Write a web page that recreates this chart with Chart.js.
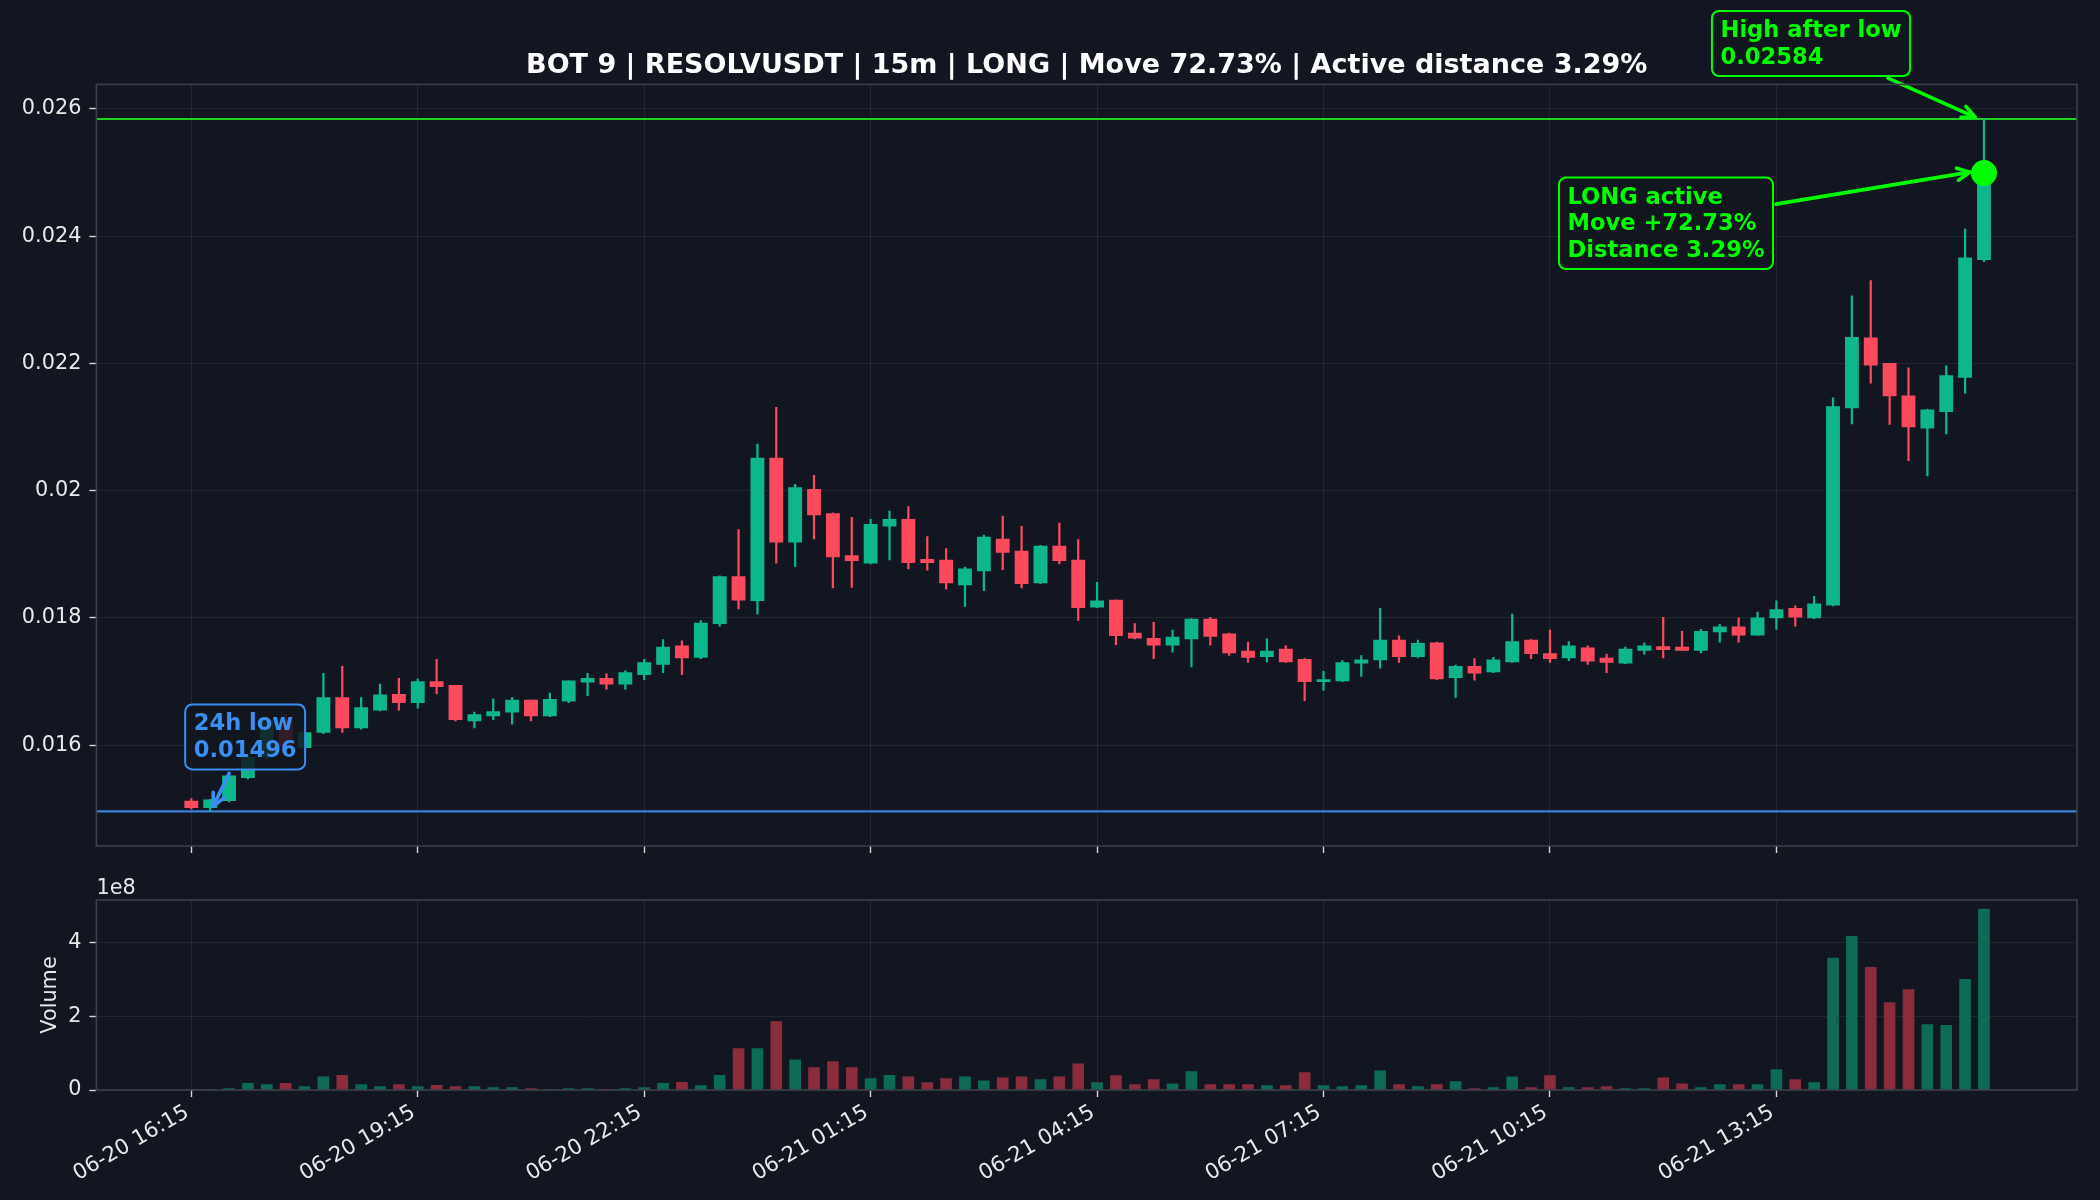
<!DOCTYPE html>
<html>
<head>
<meta charset="utf-8">
<script src="https://cdn.jsdelivr.net/npm/chart.js@4.4.1/dist/chart.umd.min.js"></script>
<style>
html,body{margin:0;padding:0;background:#121620;}
#wrap{position:relative;width:2100px;height:1200px;background:#121620;}
canvas{position:absolute;left:0;top:0;}
</style>
</head>
<body>
<div id="wrap">
<canvas id="priceChart" width="2100" height="1200"></canvas>
<canvas id="volChart" width="2100" height="1200"></canvas>
</div>
<script>
// ---------------- DATA ----------------
const chartTitle = "BOT 9 | RESOLVUSDT | 15m | LONG | Move 72.73% | Active distance 3.29%";
const tickIndex = [0, 12, 24, 36, 48, 60, 72, 84];
const tickLabels = ["06-20 16:15", "06-20 19:15", "06-20 22:15", "06-21 01:15", "06-21 04:15", "06-21 07:15", "06-21 10:15", "06-21 13:15"];
const priceTicks = [0.016, 0.018, 0.020, 0.022, 0.024, 0.026];
const priceTickLabels = ["0.016", "0.018", "0.02", "0.022", "0.024", "0.026"];
const volumeTicks = [0, 2e8, 4e8];
const volumeTickLabels = ["0", "2", "4"];

const opens = [
0.01512,0.01502,0.01513,0.01549,0.01581,0.01640,0.01596,0.01620,0.01675,0.01627,
0.01655,0.01680,0.01667,0.01700,0.01694,0.01638,0.01646,0.01652,0.01671,0.01646,
0.01669,0.01699,0.01705,0.01696,0.01711,0.01727,0.01756,0.01738,0.01791,0.01865,
0.01827,0.02051,0.01919,0.02002,0.01964,0.01898,0.01886,0.01944,0.01955,0.01892,
0.01891,0.01852,0.01874,0.01924,0.01905,0.01855,0.01913,0.01891,0.01817,0.01828,
0.01776,0.01768,0.01757,0.01767,0.01798,0.01775,0.01748,0.01739,0.01751,0.01735,
0.01700,0.01701,0.01729,0.01734,0.01765,0.01739,0.01761,0.01706,0.01724,0.01715,
0.01731,0.01765,0.01744,0.01737,0.01753,0.01737,0.01729,0.01749,0.01755,0.01754,
0.01749,0.01778,0.01786,0.01773,0.01800,0.01815,0.01800,0.01820,0.02130,0.02240,
0.02200,0.02149,0.02098,0.02124,0.02178,0.02363];
const highs = [
0.01516,0.01515,0.01553,0.01585,0.01645,0.01648,0.01622,0.01713,0.01724,0.01675,
0.01696,0.01705,0.01704,0.01735,0.01694,0.01652,0.01673,0.01675,0.01671,0.01682,
0.01701,0.01713,0.01712,0.01717,0.01735,0.01766,0.01764,0.01796,0.01866,0.01939,
0.02073,0.02131,0.02010,0.02024,0.01965,0.01958,0.01955,0.01968,0.01975,0.01928,
0.01909,0.01880,0.01930,0.01960,0.01944,0.01914,0.01949,0.01923,0.01856,0.01828,
0.01791,0.01793,0.01781,0.01799,0.01801,0.01776,0.01762,0.01767,0.01756,0.01736,
0.01716,0.01733,0.01741,0.01815,0.01772,0.01765,0.01762,0.01726,0.01736,0.01738,
0.01806,0.01766,0.01781,0.01763,0.01756,0.01743,0.01754,0.01761,0.01801,0.01779,
0.01782,0.01790,0.01800,0.01809,0.01827,0.01819,0.01834,0.02146,0.02306,0.02330,
0.02200,0.02193,0.02128,0.02196,0.02411,0.02584];
const lows = [
0.01500,0.01496,0.01511,0.01547,0.01578,0.01595,0.01594,0.01618,0.01620,0.01625,
0.01654,0.01655,0.01658,0.01681,0.01638,0.01627,0.01640,0.01633,0.01638,0.01645,
0.01667,0.01678,0.01688,0.01688,0.01703,0.01714,0.01711,0.01736,0.01787,0.01814,
0.01806,0.01886,0.01881,0.01924,0.01847,0.01848,0.01885,0.01891,0.01877,0.01875,
0.01845,0.01818,0.01843,0.01876,0.01847,0.01854,0.01885,0.01796,0.01816,0.01758,
0.01767,0.01736,0.01746,0.01723,0.01757,0.01741,0.01730,0.01731,0.01730,0.01670,
0.01686,0.01700,0.01708,0.01721,0.01730,0.01737,0.01703,0.01675,0.01702,0.01714,
0.01730,0.01736,0.01730,0.01733,0.01727,0.01714,0.01728,0.01743,0.01737,0.01749,
0.01745,0.01762,0.01762,0.01773,0.01782,0.01787,0.01799,0.01819,0.02105,0.02169,
0.02104,0.02047,0.02023,0.02089,0.02153,0.02360];
const closes = [
0.01502,0.01514,0.01552,0.01581,0.01640,0.01598,0.01620,0.01675,0.01627,0.01659,
0.01679,0.01667,0.01700,0.01692,0.01640,0.01648,0.01653,0.01671,0.01646,0.01672,
0.01701,0.01705,0.01696,0.01714,0.01730,0.01754,0.01737,0.01792,0.01865,0.01828,
0.02051,0.01919,0.02005,0.01962,0.01896,0.01890,0.01947,0.01955,0.01887,0.01887,
0.01855,0.01877,0.01927,0.01903,0.01854,0.01913,0.01890,0.01816,0.01827,0.01772,
0.01768,0.01757,0.01770,0.01798,0.01771,0.01745,0.01738,0.01748,0.01731,0.01700,
0.01703,0.01730,0.01734,0.01765,0.01739,0.01760,0.01704,0.01724,0.01713,0.01734,
0.01763,0.01744,0.01736,0.01756,0.01732,0.01730,0.01751,0.01756,0.01750,0.01749,
0.01779,0.01786,0.01773,0.01800,0.01813,0.01801,0.01822,0.02132,0.02241,0.02197,
0.02149,0.02100,0.02127,0.02181,0.02366,0.02499];
const volumes = [
1.5e6,2e6,3.6e6,18e6,14.5e6,18e6,9e6,36e6,40e6,14.5e6,
9e6,14.5e6,9e6,12.7e6,9e6,9e6,6.3e6,6.3e6,3.6e6,1.5e6,
3.6e6,3.6e6,1.5e6,3.6e6,6.3e6,18e6,21e6,11.8e6,40e6,112e6,
112e6,185e6,82e6,61e6,77e6,61e6,31e6,40e6,36e6,20e6,
31e6,36e6,25e6,33e6,36e6,28e6,36e6,71e6,20e6,39e6,
14.5e6,28e6,17e6,50e6,14.5e6,14.5e6,14.5e6,12e6,12e6,47e6,
12e6,9e6,12e6,52e6,14.5e6,9e6,14.5e6,23e6,3.6e6,6.3e6,
36e6,6.3e6,39e6,6.3e6,6.3e6,9e6,3.6e6,3.6e6,33e6,17e6,
6.3e6,14.5e6,14.5e6,14.5e6,55e6,28e6,20e6,357e6,416e6,332e6,
237e6,272e6,177e6,175e6,300e6,490e6];

const lowValue = 0.01496, lowIndex = 1;
const highValue = 0.02584, highIndex = 95;
const activeIndex = 95;
const lowLabel = ["24h low", "0.01496"];
const highLabel = ["High after low", "0.02584"];
const activeLabel = ["LONG active", "Move +72.73%", "Distance 3.29%"];

// ---------------- STYLE ----------------
const BG = '#121620';
const UP = '#0eb68b', DOWN = '#fb4a5e';
const UP_VOL = '#0d6b55', DOWN_VOL = '#8a2c3c';
const GRID = 'rgba(255,255,255,0.07)';
const SPINE = '#3c404b';
const TXT = '#e8e8e8';
const TICKC = '#d8d8d8';
const LIME = '#00ff00';
const BLUE = '#3b8ef3';
const FONT = "'DejaVu Sans', sans-serif";
const X_MIN = -5.03, X_MAX = 99.93;
const PLOT_LEFT = 96.4, PLOT_RIGHT_PAD = 23;

Chart.defaults.font.family = FONT;
Chart.defaults.color = TXT;

const isUp = i => closes[i] >= opens[i];
const candleColors = opens.map((_, i) => isUp(i) ? UP : DOWN);
const volColors = opens.map((_, i) => isUp(i) ? UP_VOL : DOWN_VOL);

const framePlugin = {
  id: 'frame',
  afterDatasetsDraw(chart) {
    const {ctx, chartArea: a} = chart;
    ctx.save();
    ctx.strokeStyle = SPINE; ctx.lineWidth = 1.6;
    ctx.strokeRect(a.left, a.top, a.right - a.left, a.bottom - a.top);
    ctx.restore();
  }
};

function arrow(ctx, x1, y1, x2, y2, color) {
  ctx.save();
  ctx.strokeStyle = color; ctx.lineWidth = 3.6; ctx.lineCap = 'round'; ctx.lineJoin = 'round';
  ctx.beginPath(); ctx.moveTo(x1, y1); ctx.lineTo(x2, y2); ctx.stroke();
  const ang = Math.atan2(y2 - y1, x2 - x1), hl = 14, ha = 0.45;
  ctx.beginPath();
  ctx.moveTo(x2 - hl * Math.cos(ang - ha), y2 - hl * Math.sin(ang - ha));
  ctx.lineTo(x2, y2);
  ctx.lineTo(x2 - hl * Math.cos(ang + ha), y2 - hl * Math.sin(ang + ha));
  ctx.stroke();
  ctx.restore();
}

function labelBox(ctx, ax, ay, dx, dy, lines, color, arrowFrom, arrowTo) {
  ctx.save();
  ctx.font = "bold 22.6px " + FONT;
  const w = Math.max(...lines.map(l => ctx.measureText(l).width));
  const bx = ax + dx, by = ay + dy;
  const bw = w + 17, bh = lines.length * 26.5 + 12;
  ctx.beginPath();
  ctx.roundRect(bx, by, bw, bh, 7);
  ctx.fillStyle = 'rgba(18,22,32,0.86)';
  ctx.fill();
  ctx.strokeStyle = color; ctx.lineWidth = 2;
  ctx.stroke();
  ctx.fillStyle = color;
  ctx.textBaseline = 'alphabetic'; ctx.textAlign = 'left';
  lines.forEach((l, i) => ctx.fillText(l, bx + 8.5, by + 26 + i * 26.5));
  ctx.restore();
  arrow(ctx, ax + arrowFrom[0], ay + arrowFrom[1], ax + arrowTo[0], ay + arrowTo[1], color);
}

const annotPlugin = {
  id: 'annot',
  beforeDatasetsDraw(chart) {
    const {ctx, chartArea: a, scales: {y}} = chart;
    ctx.save();
    ctx.lineWidth = 2.2;
    ctx.strokeStyle = '#3a7fd5';
    let py = y.getPixelForValue(lowValue);
    ctx.beginPath(); ctx.moveTo(a.left, py); ctx.lineTo(a.right, py); ctx.stroke();
    ctx.strokeStyle = '#1ed21e';
    py = y.getPixelForValue(highValue);
    ctx.beginPath(); ctx.moveTo(a.left, py); ctx.lineTo(a.right, py); ctx.stroke();
    ctx.restore();
  },
  afterDatasetsDraw(chart) {
    const {ctx, scales: {x, y}} = chart;
    const lx = x.getPixelForValue(lowIndex), ly = y.getPixelForValue(lowValue);
    labelBox(ctx, lx, ly, -25, -107, lowLabel, BLUE, [19, -38], [3, -5]);
    const hx = x.getPixelForValue(highIndex), hy = y.getPixelForValue(highValue);
    labelBox(ctx, hx, hy, -272, -108, highLabel, LIME, [-96, -41], [-9, -2]);
    const cx = x.getPixelForValue(activeIndex), cy = y.getPixelForValue(closes[activeIndex]);
    labelBox(ctx, cx, cy, -425, 4.5, activeLabel, LIME, [-208, 31], [-14, -1]);
  },
  afterDraw(chart) {
    const {ctx, chartArea: a} = chart;
    ctx.save();
    ctx.font = "bold 27px " + FONT;
    ctx.fillStyle = '#ffffff';
    ctx.textAlign = 'center'; ctx.textBaseline = 'alphabetic';
    ctx.fillText(chartTitle, (a.left + a.right) / 2, 72.5);
    ctx.restore();
  }
};

const volPlugin = {
  id: 'volTxt',
  afterDraw(chart) {
    const {ctx, chartArea: a} = chart;
    ctx.save();
    ctx.font = "20.8px " + FONT;
    ctx.fillStyle = TXT;
    ctx.textAlign = 'left'; ctx.textBaseline = 'alphabetic';
    ctx.fillText('1e8', a.left, 894);
    ctx.restore();
  }
};

const xGrid = {color: GRID, lineWidth: 1, drawTicks: true, tickLength: 7, tickColor: TICKC, tickWidth: 1.4, offset: false};
const yGrid = {color: GRID, lineWidth: 1, drawTicks: true, tickLength: 7, tickColor: TICKC, tickWidth: 1.4};

// ---------------- PRICE CHART ----------------
new Chart(document.getElementById('priceChart'), {
  type: 'bar',
  data: {
    datasets: [
      {
        label: 'dot', type: 'scatter',
        data: [{x: activeIndex, y: closes[activeIndex]}],
        pointRadius: 13, pointBackgroundColor: LIME, pointBorderWidth: 0, order: 0
      },
      {
        label: 'body',
        data: opens.map((o, i) => ({x: i, y: [o, closes[i]]})),
        backgroundColor: candleColors, borderWidth: 0,
        barThickness: 13.2, grouped: false, minBarLength: 2, order: 1
      },
      {
        label: 'wick',
        data: opens.map((o, i) => ({x: i, y: [lows[i], highs[i]]})),
        backgroundColor: candleColors, borderWidth: 0,
        barThickness: 1.6, grouped: false, order: 2
      }
    ]
  },
  options: {
    responsive: false, animation: false, devicePixelRatio: 1,
    layout: {padding: {left: 0, top: 84.4, right: PLOT_RIGHT_PAD, bottom: 344}},
    plugins: {legend: {display: false}, tooltip: {enabled: false}, title: {display: false}},
    scales: {
      x: {
        type: 'linear', min: X_MIN, max: X_MAX, offset: false,
        grid: xGrid, border: {display: false},
        afterBuildTicks: s => { s.ticks = tickIndex.map(v => ({value: v})); },
        afterFit: s => { s.height = 10; },
        ticks: {display: false}
      },
      y: {
        type: 'linear', min: 0.014416, max: 0.026384,
        grid: yGrid, border: {display: false},
        afterBuildTicks: s => { s.ticks = priceTicks.map(v => ({value: v})); },
        afterFit: s => { s.width = PLOT_LEFT; },
        ticks: {
          color: TXT, font: {size: 20.8}, padding: 8,
          callback: (v, i) => priceTickLabels[i]
        }
      }
    }
  },
  plugins: [annotPlugin, framePlugin]
});

// ---------------- VOLUME CHART ----------------
new Chart(document.getElementById('volChart'), {
  type: 'bar',
  data: {
    datasets: [{
      label: 'Volume',
      data: volumes.map((v, i) => ({x: i, y: v})),
      backgroundColor: volColors, borderWidth: 0,
      barThickness: 11
    }]
  },
  options: {
    responsive: false, animation: false, devicePixelRatio: 1,
    layout: {padding: {left: 0, top: 900, right: PLOT_RIGHT_PAD, bottom: 0}},
    plugins: {legend: {display: false}, tooltip: {enabled: false}},
    scales: {
      x: {
        type: 'linear', min: X_MIN, max: X_MAX, offset: false,
        grid: xGrid, border: {display: false},
        afterBuildTicks: s => { s.ticks = tickIndex.map(v => ({value: v})); },
        afterFit: s => { s.height = 110; },
        ticks: {
          color: TXT, font: {size: 21.2}, padding: 3,
          autoSkip: false, minRotation: 30, maxRotation: 30, labelOffset: -4,
          callback: (v, i) => tickLabels[i]
        }
      },
      y: {
        type: 'linear', min: 0, max: 5.145e8,
        grid: yGrid, border: {display: false},
        afterBuildTicks: s => { s.ticks = volumeTicks.map(v => ({value: v})); },
        afterFit: s => { s.width = PLOT_LEFT; },
        title: {display: true, text: 'Volume', color: TXT, font: {size: 20.8}, padding: {top: 38, bottom: 0}},
        ticks: {
          color: TXT, font: {size: 20.8}, padding: 8,
          callback: (v, i) => volumeTickLabels[i]
        }
      }
    }
  },
  plugins: [framePlugin, volPlugin]
});
</script>
</body>
</html>
